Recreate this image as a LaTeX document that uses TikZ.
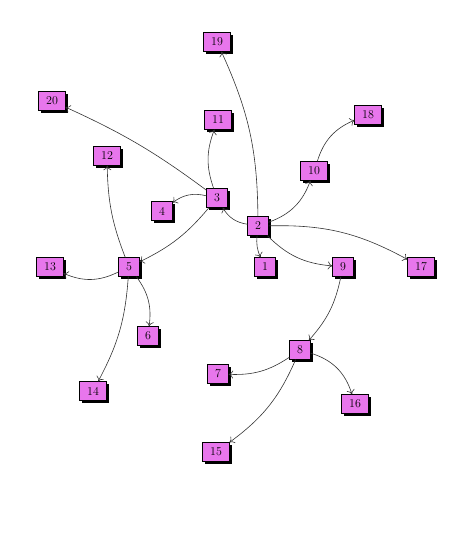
\documentclass[tikz,border=0pt]{standalone}
\usetikzlibrary{shadows,arrows.meta}
\definecolor{boxviolet}{RGB}{232,118,236}
\begin{document}
\begin{tikzpicture}[x=1pt,y=-1pt,
		vtx/.style={draw=black,fill=boxviolet,font=\large,inner xsep=7.5pt,inner ysep=3pt,
			minimum width=20pt,minimum height=19pt,
			drop shadow={shadow xshift=2.5pt,shadow yshift=-2.5pt,fill=black,opacity=1}},
		link/.style={-{To[length=4.5pt,width=8pt]},draw=black!80,semithick}]
			\useasboundingbox (0,0) rectangle (474,533);

			% nodes
			\node (n19) at (217,42)[vtx]{19};
			\node (n20) at (52,101)[vtx]{20};
			\node (n11) at (218,120)[vtx]{11};
			\node (n18) at (368,115)[vtx]{18};
			\node (n12) at (107,156)[vtx]{12};
			\node (n10) at (314,171)[vtx]{10};
			\node (n3) at (217,198)[vtx]{3};
			\node (n4) at (162,211)[vtx]{4};
			\node (n2) at (258,226)[vtx]{2};
			\node (n1) at (265,267)[vtx]{1};
			\node (n9) at (343,267)[vtx]{9};
			\node (n17) at (421,267)[vtx]{17};
			\node (n13) at (50,267)[vtx]{13};
			\node (n5) at (129,267)[vtx]{5};
			\node (n6) at (148,336)[vtx]{6};
			\node (n8) at (300,350)[vtx]{8};
			\node (n7) at (218,374)[vtx]{7};
			\node (n16) at (355,404)[vtx]{16};
			\node (n14) at (93,391)[vtx]{14};
			\node (n15) at (216,452)[vtx]{15};

			% edges from 2
			\draw[link] (n2) to[bend left=25] (n3);
			\draw[link] (n2) to[bend right=12] (n19);
			\draw[link] (n2) to[bend right=25] (n10);
			\draw[link] (n2) to[bend left=15] (n17);
			\draw[link] (n2) to[bend right=20] (n9);
			\draw[link] (n2) to[bend right=15] (n1);

			% edges from 3
			\draw[link] (n3) to[bend left=20] (n11);
			\draw[link] (n3) to[bend right=25] (n4);
			\draw[link] (n3) to[bend right=6] (n20);
			\draw[link] (n3) to[bend left=12] (n5);

			% edges from 5
			\draw[link] (n5) to[bend left=10] (n12);
			\draw[link] (n5) to[bend left=25] (n13);
			\draw[link] (n5) to[bend left=22] (n6);
			\draw[link] (n5) to[bend left=12] (n14);

			% the rest
			\draw[link] (n10) to[bend left=25] (n18);
			\draw[link] (n9) to[bend left=15] (n8);
			\draw[link] (n8) to[bend left=18] (n7);
			\draw[link] (n8) to[bend left=28] (n16);
			\draw[link] (n8) to[bend left=15] (n15);
		\end{tikzpicture}
\end{document}
